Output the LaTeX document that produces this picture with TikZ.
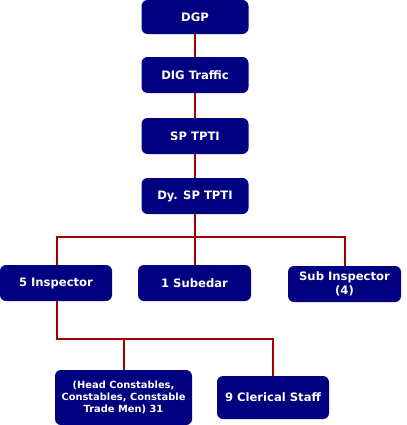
\documentclass[tikz,border=0pt]{standalone}
\usepackage{fontspec}
\setmainfont{DejaVu Sans}
\definecolor{boxnavy}{RGB}{0,0,128}
\definecolor{linered}{RGB}{160,0,0}
\begin{document}
\begin{tikzpicture}[x=0.75pt,y=-0.75pt,
  orgbox/.style={draw=none,fill=boxnavy,rounded corners=4.5pt,text=white,
    font=\fontsize{8.7}{10}\selectfont\bfseries,align=center,inner sep=0pt},
  topbox/.style={orgbox,minimum width=107*0.75pt,minimum height=36*0.75pt},
  smallbox/.style={orgbox,font=\fontsize{7.4}{8.8}\selectfont\bfseries},
  link/.style={draw=linered,line width=1.5pt}]
\useasboundingbox (0,0) rectangle (407,425);
\coordinate (hj) at (195,237);
\coordinate (lj) at (57,339);
\node[topbox,minimum height=34*0.75pt] (dgp) at (195,17) {DGP};
\node[topbox] (dig) at (195,75) {DIG Traffic};
\node[topbox] (sp) at (195,136) {SP TPTI};
\node[topbox] (dysp) at (195,196) {Dy. SP TPTI};
\node[orgbox,minimum width=112*0.75pt,minimum height=36*0.75pt] (insp) at (56,283) {5 Inspector};
\node[orgbox,minimum width=113*0.75pt,minimum height=36*0.75pt] (sub) at (194.5,283) {1 Subedar};
\node[orgbox,minimum width=113*0.75pt,minimum height=36*0.75pt] (subi) at (344.5,284) {Sub Inspector\\(4)};
\node[smallbox,minimum width=137*0.75pt,minimum height=55*0.75pt] (hc) at (123.5,397.5) {(Head Constables,\\Constables, Constable\\Trade Men) 31};
\node[orgbox,minimum width=112*0.75pt,minimum height=43*0.75pt] (cl) at (273,397.5) {9 Clerical Staff};
\draw[link] (dgp.south) -- (dig.north);
\draw[link] (dig.south) -- (sp.north);
\draw[link] (sp.south) -- (dysp.north);
\draw[link] (dysp.south) -- (sub.north -| dysp.south);
\draw[link] (insp.north -| lj) |- (hj) -| (subi.north);
\draw[link] (insp.south -| lj) -- (lj) -| (hc.north);
\draw[link] (lj) -| (cl.north);
\end{tikzpicture}
\end{document}
